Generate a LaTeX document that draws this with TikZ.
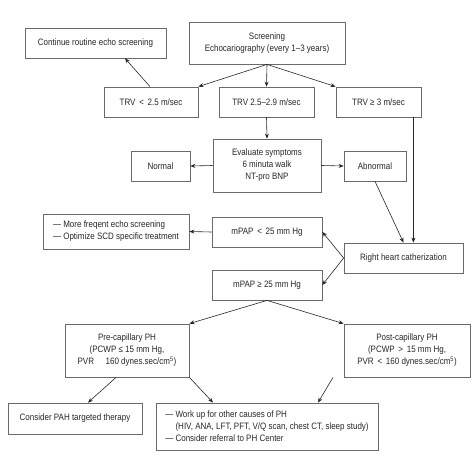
\documentclass[tikz,border=0pt]{standalone}
\usepackage{fontspec}
\setmainfont{Liberation Sans}[FakeStretch=0.86]
\usetikzlibrary{positioning}
\usetikzlibrary{arrows.meta}
\definecolor{boxgray}{HTML}{6A6A6A}
\definecolor{inkgray}{HTML}{262626}

\begin{document}
\begin{tikzpicture}[x=1pt,y=-1pt,  block/.style={    draw=boxgray,    line width=0.8pt,    rectangle,    inner sep=2pt,    align=center,    text=inkgray,    font=\fontsize{9.3}{12}\selectfont  },  arrow/.style={    -{Stealth[length=5pt,width=4pt]},    draw=inkgray,    line width=0.6pt  }]
		\useasboundingbox (0,0) rectangle (474,474);
		% Nodes
		\node[block, minimum width=156pt, minimum height=42pt] (screen) at (267,43) {Screening\\Echocariography (every 1--3 years)};
		\node[block, minimum width=141pt, minimum height=30pt] (cont) at (95.5,43) {Continue routine echo screening};
		\node[block, minimum width=94pt, minimum height=30pt] (trvlow) at (151,102) {TRV \,<\, 2.5 m/sec};
		\node[block, minimum width=95pt, minimum height=30pt] (trvmid) at (266.5,102) {TRV 2.5--2.9 m/sec};
		\node[block, minimum width=85pt, minimum height=30pt] (trvhigh) at (378.5,102) {TRV ≥ 3 m/sec};
		\node[block, minimum width=108pt, minimum height=53pt] (eval) at (267,165.5) {Evaluate symptoms\\6 minuta walk\\NT-pro BNP};
		\node[block, minimum width=59pt, minimum height=30pt] (normal) at (160.5,166) {Normal};
		\node[block, minimum width=62pt, minimum height=30pt] (abnormal) at (375,166) {Abnormal};
		\node[block, minimum width=146pt, minimum height=35pt, align=left] (freq) at (116,231.5) {--- More freqent echo screening\\--- Optimize SCD specific treatment};
		\node[block, minimum width=110pt, minimum height=30pt] (mlow) at (267,232) {mPAP \,<\, 25 mm Hg};
		\node[block, minimum width=119pt, minimum height=30pt] (rhc) at (403.5,258) {Right heart catherization};
		\node[block, minimum width=110pt, minimum height=30pt] (mhigh) at (267,285) {mPAP ≥ 25 mm Hg};
		\node[block, minimum width=124pt, minimum height=53pt] (pre) at (127,350.5) {Pre-capillary PH\\(PCWP ≤ 15 mm Hg,\\PVR \quad 160 dynes.sec/cm\textsuperscript{5})};
		\node[block, minimum width=126pt, minimum height=53pt] (post) at (407,350.5) {Post-capillary PH\\(PCWP \,>\, 15 mm Hg,\\PVR \,<\, 160 dynes.sec/cm\textsuperscript{5})};
		\node[block, minimum width=134pt, minimum height=31pt] (pah) at (75,418.5) {Consider PAH targeted therapy};
		\node[block, minimum width=222pt, minimum height=47pt, align=left] (work) at (267,426.5) {--- Work up for other causes of PH\\\phantom{--- }(HIV, ANA, LFT, PFT, V/Q scan, chest CT, sleep study)\\--- Consider referral to PH Center};
		% Arrows
		\draw[arrow] (screen.south) -- (trvlow.north east);
		\draw[arrow] (screen.south) -- (trvmid.north);
		\draw[arrow] (screen.south) -- (trvhigh.north west);
		\draw[arrow] ([xshift=-1pt]trvlow.north) -- ([xshift=29.5pt]cont.south);
		\draw[arrow] (trvmid.south) -- (eval.north);
		\draw[arrow] (eval.west) -- (normal.east);
		\draw[arrow] (eval.east) -- (abnormal.west);
		\draw[arrow] ([xshift=-8pt]trvhigh.south east) -- ([xshift=-8pt]trvhigh.south east |- rhc.north);
		\draw[arrow] (abnormal.south) -- (rhc.north);
		\draw[arrow] (rhc.west) -- (mlow.east);
		\draw[arrow] (rhc.west) -- (mhigh.east);
		\draw[arrow] (mlow.west) -- (freq.east);
		\draw[arrow] (mhigh.south) -- (pre.north east);
		\draw[arrow] (mhigh.south) -- (post.north west);
		\draw[arrow] ([xshift=-11pt]pre.south) -- ([xshift=13pt]pah.north);
		\draw[arrow] (pre.south east) -- ([xshift=-54pt]work.north);
		\draw[arrow] ([xshift=-74pt]post.south) -- ([xshift=51pt]work.north);
	\end{tikzpicture}
\end{document}
